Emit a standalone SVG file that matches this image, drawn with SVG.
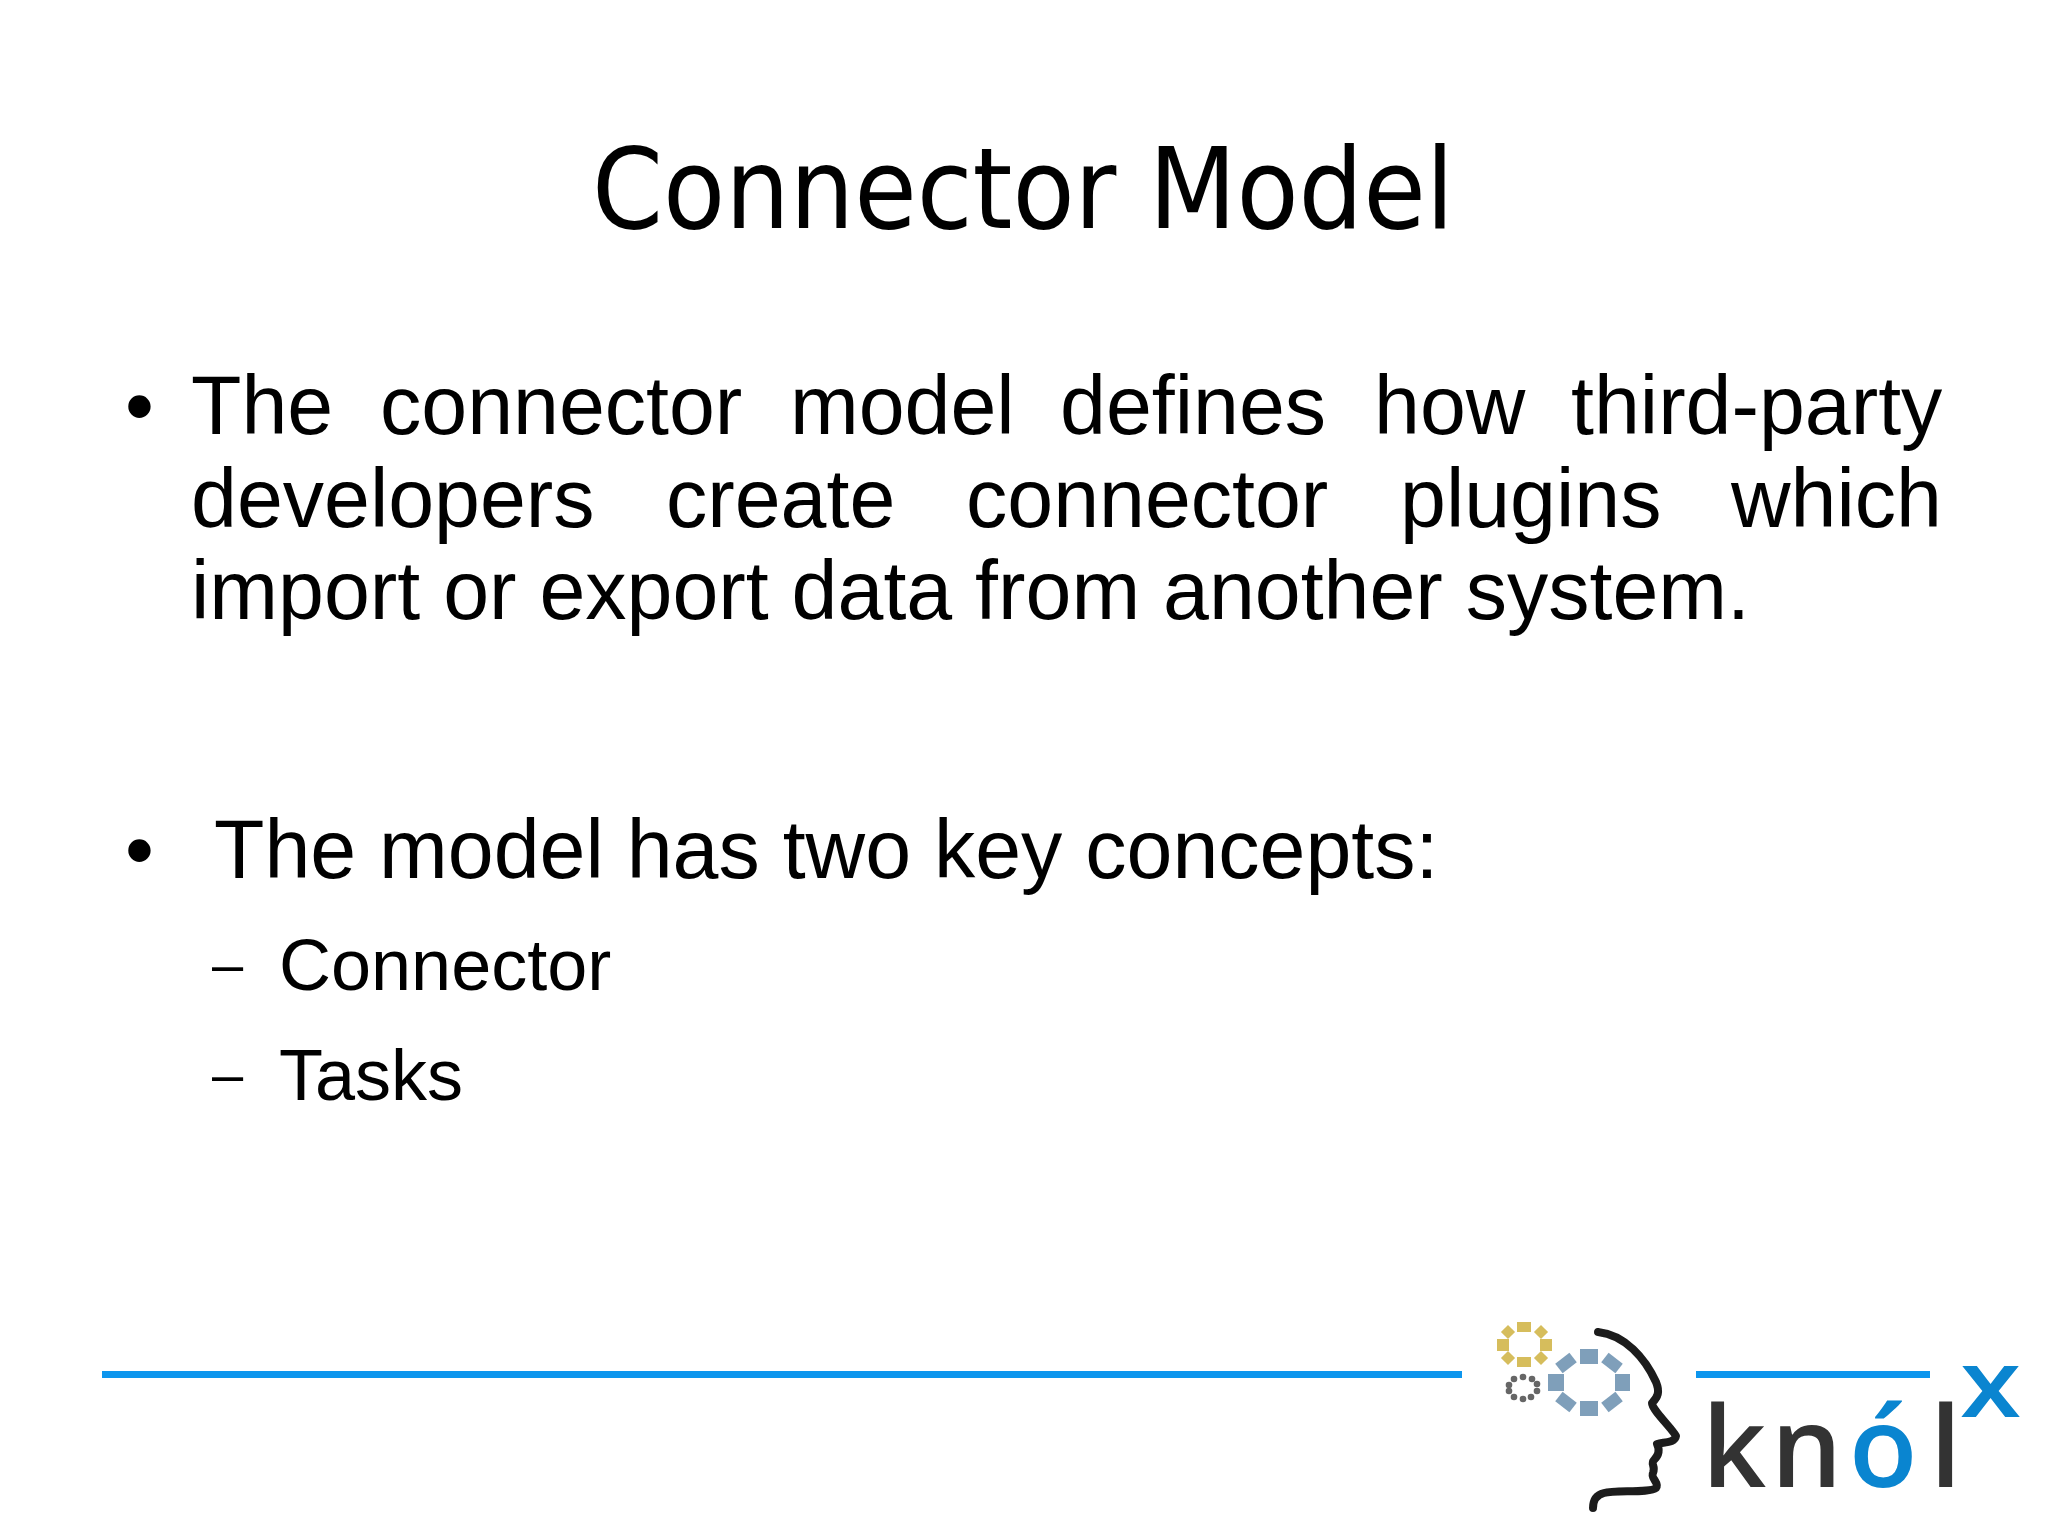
<svg xmlns="http://www.w3.org/2000/svg" width="2048" height="1535" viewBox="0 0 2048 1535">
<defs>
<style>
.t{font-family:"DejaVu Sans",sans-serif;font-stretch:condensed;font-size:113px;fill:#000}
.b{font-family:"Liberation Sans",Arial,sans-serif;font-size:82.5px;fill:#000}
.s{font-family:"Liberation Sans",Arial,sans-serif;font-size:72px;fill:#000}
.d{font-family:"Liberation Sans",Arial,sans-serif;font-size:56px;fill:#000}
.l{font-family:"Open Sans",sans-serif;font-size:112px;font-weight:600;fill:#333}
.o{fill:#0a85d0}
.rule{fill:#0d96ee}
.g1{fill:#d6bd5c}.g2{fill:#7f9fba}.g3{fill:#666}
</style>
<filter id="soft" x="-5%" y="-5%" width="110%" height="110%"><feGaussianBlur stdDeviation="0.6"/></filter>
</defs>
<rect width="2048" height="1535" fill="#fff"/>
<text id="title" class="t" x="1023" y="228" text-anchor="middle">Connector Model</text>
<g id="body">
<text class="b" x="125" y="434">•</text>
<text class="b" y="434"><tspan x="191">The</tspan><tspan x="380">connector</tspan><tspan x="790">model</tspan><tspan x="1060">defines</tspan><tspan x="1374">how</tspan><tspan x="1571">third-party</tspan></text>
<text class="b" y="527"><tspan x="191">developers</tspan><tspan x="666">create</tspan><tspan x="966">connector</tspan><tspan x="1400">plugins</tspan><tspan x="1731">which</tspan></text>
<text class="b" x="191" y="619">import or export data from another system.</text>
<text class="b" x="125" y="878">•</text>
<text class="b" x="214" y="878">The model has two key concepts:</text>
<text class="d" x="212" y="983">–</text>
<text class="s" x="279" y="990">Connector</text>
<text class="d" x="212" y="1093">–</text>
<text class="s" x="279" y="1100">Tasks</text>
</g>
<g id="footer-rules">
<rect class="rule" x="102" y="1371" width="1360" height="7"/>
<rect class="rule" x="1696" y="1371" width="234" height="7"/>
</g>
<g id="logo">
<g filter="url(#soft)">
<path d="M1598 1332C1625 1335 1645 1358 1656 1382C1660 1392 1658 1397 1652 1403C1652 1410 1672 1428 1676 1436C1675 1443 1664 1442 1657 1444C1660 1450 1659 1455 1654 1460C1650 1464 1656 1466 1653 1473C1650 1478 1660 1483 1656 1488C1650 1493 1615 1490 1604 1493C1596 1495 1593 1500 1593 1508" fill="none" stroke="#1c1c1c" stroke-width="8" stroke-linecap="round" stroke-linejoin="round"/>
<g class="g1">
<rect x="1517" y="1322" width="14" height="10" />
<rect x="1517" y="1357" width="14" height="10" />
<rect x="1497" y="1339" width="12" height="12" />
<rect x="1540" y="1339" width="12" height="12" />
<rect x="-5" y="-5" width="10" height="10" transform="translate(1508 1332) rotate(45)"/>
<rect x="-5" y="-5" width="10" height="10" transform="translate(1541 1332) rotate(45)"/>
<rect x="-5" y="-5" width="10" height="10" transform="translate(1508 1358) rotate(45)"/>
<rect x="-5" y="-5" width="10" height="10" transform="translate(1541 1358) rotate(45)"/>
</g>
<g class="g2">
<rect x="1580" y="1349" width="18" height="15" />
<rect x="1580" y="1401" width="18" height="15" />
<rect x="1548" y="1374" width="16" height="17" />
<rect x="1615" y="1374" width="15" height="17" />
<rect x="-9" y="-6" width="18" height="12" transform="translate(1566 1363) rotate(-38)"/>
<rect x="-9" y="-6" width="18" height="12" transform="translate(1612 1363) rotate(38)"/>
<rect x="-9" y="-6" width="18" height="12" transform="translate(1566 1402) rotate(38)"/>
<rect x="-9" y="-6" width="18" height="12" transform="translate(1612 1402) rotate(-38)"/>
</g>
<g class="g3">
<circle cx="1523" cy="1377" r="3.3"/><circle cx="1532" cy="1379" r="3.3"/><circle cx="1537" cy="1384" r="3.3"/><circle cx="1537" cy="1391" r="3.3"/><circle cx="1531" cy="1397" r="3.3"/><circle cx="1523" cy="1399" r="3.3"/><circle cx="1514" cy="1397" r="3.3"/><circle cx="1509" cy="1391" r="3.3"/><circle cx="1509" cy="1385" r="3.3"/><circle cx="1514" cy="1379" r="3.3"/>
</g>
</g>
<text class="l" x="1702" y="1487">k</text>
<text class="l" x="1771" y="1487">n</text>
<text class="l o" x="1849" y="1487">ó</text>
<text class="l" x="1930" y="1487">l</text>
<text transform="translate(1960 1417) scale(1.18 1)" style="font-family:'Open Sans',sans-serif;font-size:94px;font-weight:600;fill:#0a85d0">x</text>
</g>
</svg>
